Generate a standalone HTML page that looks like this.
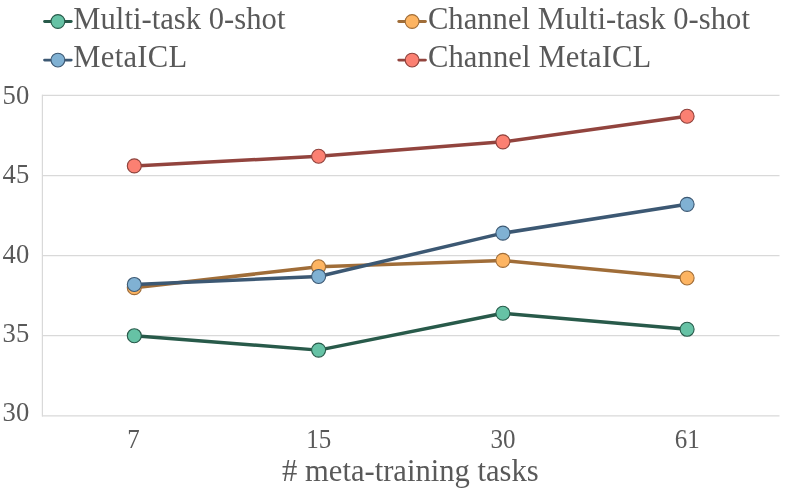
<!DOCTYPE html>
<html><head><meta charset="utf-8"><style>
html,body{margin:0;padding:0;background:#fff;}
body{width:788px;height:499px;overflow:hidden;}
svg{display:block;}
text{font-family:"Liberation Serif","Times New Roman",serif;fill:#595959;}
</style></head><body>
<svg width="788" height="499" viewBox="0 0 788 499">

<line x1="42" y1="335.70" x2="779.5" y2="335.70" stroke="#d9d9d9" stroke-width="1.25"/>
<line x1="42" y1="255.60" x2="779.5" y2="255.60" stroke="#d9d9d9" stroke-width="1.25"/>
<line x1="42" y1="175.50" x2="779.5" y2="175.50" stroke="#d9d9d9" stroke-width="1.25"/>
<line x1="42" y1="95.40" x2="779.5" y2="95.40" stroke="#d9d9d9" stroke-width="1.25"/>
<line x1="42" y1="415.80" x2="779.5" y2="415.80" stroke="#d9d9d9" stroke-width="1.25"/>
<line x1="42.4" y1="94.80" x2="42.4" y2="416.40" stroke="#d9d9d9" stroke-width="1.2"/>
<text transform="translate(29.2 104.1) scale(0.96 1)" font-size="27.7" text-anchor="end">50</text>
<text transform="translate(29.2 182.9) scale(0.96 1)" font-size="27.7" text-anchor="end">45</text>
<text transform="translate(29.2 262.5) scale(0.96 1)" font-size="27.7" text-anchor="end">40</text>
<text transform="translate(29.2 341.9) scale(0.96 1)" font-size="27.7" text-anchor="end">35</text>
<text transform="translate(29.2 421.0) scale(0.96 1)" font-size="27.7" text-anchor="end">30</text>
<text transform="translate(133.6 447.8) scale(0.94 1)" font-size="26.6" text-anchor="middle">7</text>
<text transform="translate(318.7 447.8) scale(0.94 1)" font-size="26.6" text-anchor="middle">15</text>
<text transform="translate(503.0 447.8) scale(0.94 1)" font-size="26.6" text-anchor="middle">30</text>
<text transform="translate(687.2 447.8) scale(0.94 1)" font-size="26.6" text-anchor="middle">61</text>
<text x="410.4" y="480.8" font-size="30.6" text-anchor="middle"># meta-training tasks</text>
<polyline points="134.3,335.70 318.6,350.12 502.9,313.27 687.1,329.29" fill="none" stroke="#285a4a" stroke-width="3.5" stroke-linejoin="round" stroke-linecap="round"/>
<circle cx="134.3" cy="335.70" r="7.0" fill="#66c2a5" stroke="#285a4a" stroke-width="1.1"/>
<circle cx="318.6" cy="350.12" r="7.0" fill="#66c2a5" stroke="#285a4a" stroke-width="1.1"/>
<circle cx="502.9" cy="313.27" r="7.0" fill="#66c2a5" stroke="#285a4a" stroke-width="1.1"/>
<circle cx="687.1" cy="329.29" r="7.0" fill="#66c2a5" stroke="#285a4a" stroke-width="1.1"/>
<polyline points="134.3,287.64 318.6,266.81 502.9,260.41 687.1,278.03" fill="none" stroke="#a06d38" stroke-width="3.5" stroke-linejoin="round" stroke-linecap="round"/>
<circle cx="134.3" cy="287.64" r="7.0" fill="#fdb462" stroke="#a06d38" stroke-width="1.1"/>
<circle cx="318.6" cy="266.81" r="7.0" fill="#fdb462" stroke="#a06d38" stroke-width="1.1"/>
<circle cx="502.9" cy="260.41" r="7.0" fill="#fdb462" stroke="#a06d38" stroke-width="1.1"/>
<circle cx="687.1" cy="278.03" r="7.0" fill="#fdb462" stroke="#a06d38" stroke-width="1.1"/>
<polyline points="134.3,284.44 318.6,276.43 502.9,233.17 687.1,204.34" fill="none" stroke="#3c5873" stroke-width="3.5" stroke-linejoin="round" stroke-linecap="round"/>
<circle cx="134.3" cy="284.44" r="7.0" fill="#80b1d3" stroke="#3c5873" stroke-width="1.1"/>
<circle cx="318.6" cy="276.43" r="7.0" fill="#80b1d3" stroke="#3c5873" stroke-width="1.1"/>
<circle cx="502.9" cy="233.17" r="7.0" fill="#80b1d3" stroke="#3c5873" stroke-width="1.1"/>
<circle cx="687.1" cy="204.34" r="7.0" fill="#80b1d3" stroke="#3c5873" stroke-width="1.1"/>
<polyline points="134.3,165.89 318.6,156.28 502.9,141.86 687.1,116.23" fill="none" stroke="#92443e" stroke-width="3.5" stroke-linejoin="round" stroke-linecap="round"/>
<circle cx="134.3" cy="165.89" r="7.0" fill="#fb8072" stroke="#8e413b" stroke-width="1.1"/>
<circle cx="318.6" cy="156.28" r="7.0" fill="#fb8072" stroke="#8e413b" stroke-width="1.1"/>
<circle cx="502.9" cy="141.86" r="7.0" fill="#fb8072" stroke="#8e413b" stroke-width="1.1"/>
<circle cx="687.1" cy="116.23" r="7.0" fill="#fb8072" stroke="#8e413b" stroke-width="1.1"/>
<line x1="44.6" y1="21.5" x2="71.2" y2="21.5" stroke="#285a4a" stroke-width="2.9" stroke-linecap="round"/>
<circle cx="57.900000000000006" cy="21.5" r="6.9" fill="#66c2a5" stroke="#285a4a" stroke-width="1.1"/>
<text x="73.3" y="29.0" font-size="30.6" textLength="212.1">Multi-task 0-shot</text>
<line x1="398.8" y1="21.5" x2="425.40000000000003" y2="21.5" stroke="#a06d38" stroke-width="2.9" stroke-linecap="round"/>
<circle cx="412.1" cy="21.5" r="6.9" fill="#fdb462" stroke="#a06d38" stroke-width="1.1"/>
<text x="427.9" y="29.0" font-size="30.6" textLength="322.0">Channel Multi-task 0-shot</text>
<line x1="44.6" y1="60.1" x2="71.2" y2="60.1" stroke="#3c5873" stroke-width="2.9" stroke-linecap="round"/>
<circle cx="57.900000000000006" cy="60.1" r="6.9" fill="#80b1d3" stroke="#3c5873" stroke-width="1.1"/>
<text x="73.3" y="67.1" font-size="30.6" textLength="113.9">MetaICL</text>
<line x1="398.8" y1="60.1" x2="425.40000000000003" y2="60.1" stroke="#92443e" stroke-width="2.9" stroke-linecap="round"/>
<circle cx="412.1" cy="60.1" r="6.9" fill="#fb8072" stroke="#8e413b" stroke-width="1.1"/>
<text x="427.9" y="67.1" font-size="30.6" textLength="223.35">Channel MetaICL</text>
</svg></body></html>
